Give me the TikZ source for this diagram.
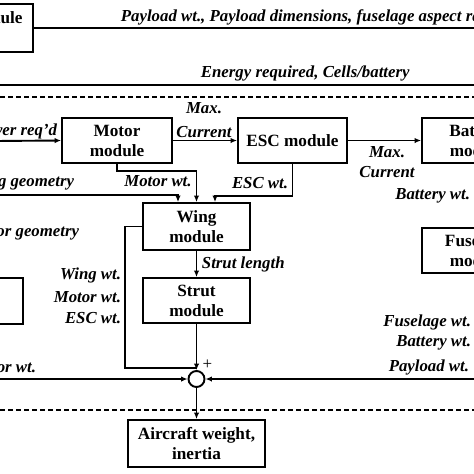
\documentclass[tikz,border=0pt]{standalone}
\usepackage{fontspec}
\setmainfont{Liberation Serif}
\usetikzlibrary{arrows.meta}
\begin{document}
\begin{tikzpicture}[x=1pt,y=-1pt,line width=1.9pt,
  box/.style={draw,line width=1.9pt,font=\fontsize{17.2}{20}\selectfont\bfseries,align=center,inner sep=0pt},
  lbl/.style={font=\fontsize{16.8}{20}\selectfont\bfseries\itshape,inner sep=0pt},
  arr/.style={-{Latex[length=6.5pt,width=5.5pt]}},
  dash line/.style={dash pattern=on 5pt off 3pt,line width=1.9pt},
  sumnode/.style={draw,circle,minimum size=16pt,inner sep=0pt,line width=1.9pt}]
\useasboundingbox (0,0) rectangle (474,474);
\clip (0,0) rectangle (474,474);
% boxes
\node[box,minimum width=110pt,minimum height=48pt] (tl) at (-22,28) {};
\node[box,minimum width=110pt,minimum height=45pt] (motor) at (117,140.5) {Motor\\module};
\node[box,minimum width=109pt,minimum height=45pt] (esc) at (292.5,140.5) {ESC module};
\node[box,minimum width=110pt,minimum height=45pt] (bat) at (477,140.5) {Battery\\module};
\node[box,minimum width=110pt,minimum height=45pt] (fus) at (477,250.5) {Fuselage\\module};
\node[box,minimum width=107pt,minimum height=47pt] (wing) at (196.5,226.5) {Wing\\module};
\node[box,minimum width=107pt,minimum height=45pt] (strut) at (196.5,300.5) {Strut\\module};
\node[box,minimum width=110pt,minimum height=46pt] (lbox) at (-32,301) {};
\node[box,minimum width=137pt,minimum height=47pt] (acw) at (196.5,443.5) {Aircraft weight,\\inertia};
\node[sumnode] (sum) at (196.5,379) {};
\node[font=\fontsize{17}{17}\selectfont,inner sep=0pt] (plus) at (207.5,364.5) {+};
\node[font=\fontsize{17.2}{20}\selectfont\bfseries,inner sep=0pt,anchor=east] (tltext) at (23.5,19) {Payload module};
% coordinates
\coordinate (pr) at (-5,141);
\coordinate (e1) at (-5,85);
\coordinate (e2) at (480,85);
\coordinate (p2) at (480,28);
\coordinate (d1a) at (0,97);
\coordinate (d1b) at (474,97);
\coordinate (d2a) at (0,410);
\coordinate (d2b) at (474,410);
\coordinate (wg) at (-5,195);
\coordinate (lin) at (-5,379);
\coordinate (rin) at (480,379);
\coordinate (wl) at (125,226.5);
\coordinate (wb) at (125,368);
\coordinate (wj) at (196.5,368);
% lines
\draw (tl.east) -- (p2);
\draw (e1) -- (e2);
\draw[dash line] (d1a) -- (d1b);
\draw[dash line] (d2a) -- (d2b);
\draw[arr] (pr) -- (motor.west);
\draw[arr] (motor.east) -- (esc.west);
\draw[arr] (esc.east) -- (bat.west);
\draw[arr] (motor.south) -- ++(0,7) -| (wing.north);
\draw[arr] (wg) -| ([xshift=-18.5pt]wing.north);
\draw[arr] (esc.south) -- ++(0,32) -| ([xshift=18.5pt]wing.north);
\draw[arr] (wing.south) -- (strut.north);
\draw[arr] (strut.south) -- (sum.north);
\draw (wing.west) -- (wl) -- (wb) -- (wj);
\draw[arr] (lin) -- (sum.west);
\draw[arr] (rin) -- (sum.east);
\draw[arr] (sum.south) -- (acw.north);
% labels
\node[lbl,anchor=west] (l1) at (120,17) {Payload wt., Payload dimensions, fuselage aspect ratio};
\node[lbl,anchor=west] (l2) at (200,73) {Energy required, Cells/battery};
\node[lbl] (l3) at (204,108) {Max.};
\node[lbl] (l4) at (204,132) {Current};
\node[lbl] (l5) at (387,152) {Max.};
\node[lbl] (l6) at (387,172) {Current};
\node[lbl,anchor=east] (l7) at (471,196) {Battery wt.};
\node[lbl] (l8) at (158,181) {Motor wt.};
\node[lbl,anchor=east] (l9) at (289,183) {ESC wt.};
\node[lbl,anchor=east] (l10) at (75,182) {Wing geometry};
\node[lbl,anchor=east] (l11) at (80,233) {Rotor geometry};
\node[lbl,anchor=east] (l12) at (58,131) {Power req’d};
\node[lbl,anchor=west] (l13) at (201,264) {Strut length};
\node[lbl,anchor=east] (l14) at (122,275) {Wing wt.};
\node[lbl,anchor=east] (l15) at (122,297) {Motor wt.};
\node[lbl,anchor=east] (l16) at (122,318) {ESC wt.};
\node[lbl,anchor=east] (l17) at (37,367) {Motor wt.};
\node[lbl,anchor=east] (l18) at (472,322) {Fuselage wt.};
\node[lbl,anchor=east] (l19) at (472,343) {Battery wt.};
\node[lbl,anchor=east] (l20) at (470,367) {Payload wt.};
\end{tikzpicture}
\end{document}
